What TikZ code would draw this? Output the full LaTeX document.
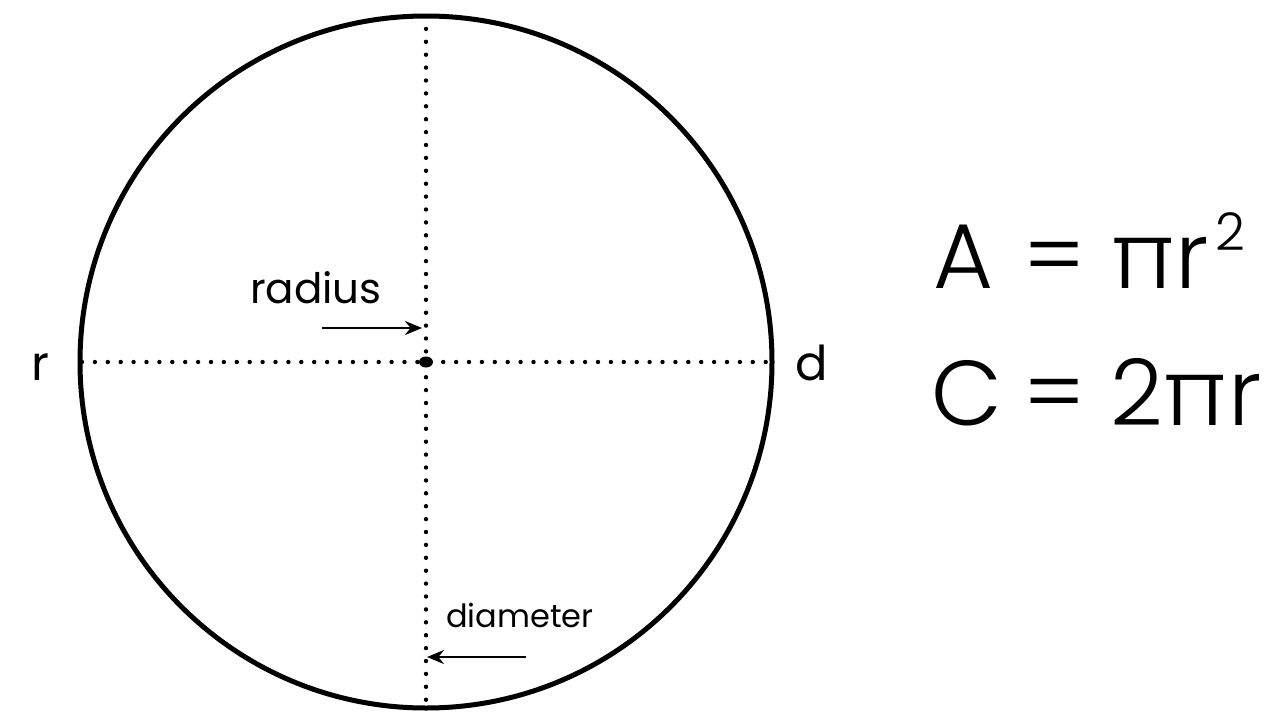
\documentclass[tikz,border=0pt]{standalone}
\usepackage{fontspec}
\setmainfont{Poppins}
\newfontfamily\lightfont{Poppins Light}
\usetikzlibrary{arrows.meta}
\tikzset{
  dots/.style={line width=4.4pt, line cap=round, dash pattern=on 0pt off 12.9pt},
  lbl/.style={inner sep=0pt, anchor=base},
  formula/.style={inner sep=0pt, anchor=base west, font=\lightfont\fontsize{92}{100}\selectfont},
  pointer/.style={line width=2.4pt, -{Stealth[length=17pt,width=14pt]}}
}
\begin{document}
\begin{tikzpicture}[x=1pt,y=-1pt]
\useasboundingbox (0,0) rectangle (1280,720);
\coordinate (O) at (426,362);
\coordinate (L) at (82,362);
\coordinate (R) at (770,362);
\coordinate (T) at (426,16);
\coordinate (B) at (426,706);
\draw[line width=5pt] (O) circle[radius=346];
\draw[dots] (L) -- (R);
\draw[dots] (T) -- (B);
\fill (O) ellipse[x radius=7, y radius=5.5];
\node[lbl, font=\fontsize{42}{48}\selectfont] (rad) at (316,303) {radius};
\node[lbl, font=\fontsize{32}{38}\selectfont] (dia) at (520,627) {diameter};
\coordinate (ra1) at (322,328);
\coordinate (ra2) at (422,328);
\draw[pointer] (ra1) -- (ra2);
\coordinate (da1) at (526,657);
\coordinate (da2) at (427,657);
\draw[pointer] (da1) -- (da2);
\node[lbl, font=\fontsize{48}{52}\selectfont] (r) at (40,380) {r};
\node[lbl, font=\fontsize{48}{52}\selectfont] (d) at (812,380) {d};
\node[formula] (A) at (933,288) {A};
\node[formula] (eqA) at (1023,288) {=};
\node[formula] (pr) at (1110,288) {πr\hspace{6pt}\raisebox{0.41em}{\fontsize{52}{54}\selectfont 2}};
\node[formula] (C) at (931,425) {C};
\node[formula] (eqC) at (1023,425) {=};
\node[formula] (tpr) at (1110,425) {2πr};
\end{tikzpicture}
\end{document}
